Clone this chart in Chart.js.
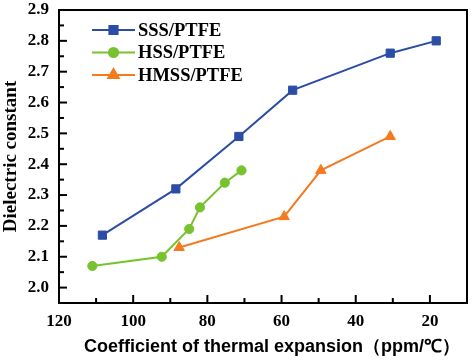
<!DOCTYPE html>
<html>
<head>
<meta charset="utf-8">
<script src="https://cdn.jsdelivr.net/npm/chart.js@4.4.1/dist/chart.umd.min.js"></script>
<style>
  html, body { margin: 0; padding: 0; background: #fff; }
  #wrap { width: 474px; height: 363px; }
</style>
</head>
<body>
<div id="wrap"><canvas id="grafico"></canvas></div>
<script>
// dados
const sssX = [108.3, 88.5, 71.5, 57.0, 30.7, 18.3];
const sssY = [2.17, 2.32, 2.49, 2.64, 2.76, 2.80];

const hssX = [111.0, 92.3, 84.9, 82.0, 75.3, 70.8];
const hssY = [2.07, 2.10, 2.19, 2.26, 2.34, 2.38];

const hmssX = [87.6, 59.3, 49.4, 30.7];
const hmssY = [2.13, 2.23, 2.38, 2.49];

const xTicks = [120, 100, 80, 60, 40, 20];
const xMinor = [110, 90, 70, 50, 30];
const yTicks = [2.0, 2.1, 2.2, 2.3, 2.4, 2.5, 2.6, 2.7, 2.8, 2.9];
const yMinor = [1.95, 2.05, 2.15, 2.25, 2.35, 2.45, 2.55, 2.65, 2.75, 2.85];

const nomes = ['SSS/PTFE', 'HSS/PTFE', 'HMSS/PTFE'];
const cores = ['#2C4DA6', '#77C22E', '#F47A20'];
const simbolos = ['rect', 'circle', 'triangle'];
const raios = [5.8, 4.6, 6];

const serif = "'Liberation Serif', 'Times New Roman', serif";
const sans = "'Liberation Sans', Arial, sans-serif";

function pontos(xs, ys) {
  return xs.map((x, i) => ({ x: x, y: ys[i] }));
}

// moldura, marcas para dentro e legenda
const moldura = {
  id: 'moldura',
  afterDraw(chart) {
    const ctx = chart.ctx;
    const a = chart.chartArea;
    const sx = chart.scales.x;
    const sy = chart.scales.y;
    ctx.save();
    ctx.strokeStyle = '#000';
    ctx.lineWidth = 2;
    ctx.strokeRect(a.left, a.top, a.right - a.left, a.bottom - a.top);

    ctx.fillStyle = '#000';
    xTicks.forEach(v => {
      const px = sx.getPixelForValue(v);
      ctx.fillRect(px - 1, a.bottom - 8, 2, 8);
    });
    xMinor.forEach(v => {
      const px = sx.getPixelForValue(v);
      ctx.fillRect(px - 1, a.bottom - 5, 2, 5);
    });
    yTicks.forEach(v => {
      const py = sy.getPixelForValue(v);
      ctx.fillRect(a.left, py - 1, 8, 2);
    });
    yMinor.forEach(v => {
      const py = sy.getPixelForValue(v);
      ctx.fillRect(a.left, py - 1, 5, 2);
    });

    // legenda
    const x0 = 92, x1 = 135, yTopo = 30, passo = 22.5;
    nomes.forEach((nome, i) => {
      const y = yTopo + i * passo;
      ctx.strokeStyle = cores[i];
      ctx.lineWidth = 2;
      ctx.beginPath();
      ctx.moveTo(x0, y); ctx.lineTo(x1, y);
      ctx.stroke();
      ctx.fillStyle = cores[i];
      Chart.helpers.drawPoint(ctx, {
        pointStyle: simbolos[i], radius: raios[i], borderWidth: 1
      }, (x0 + x1) / 2, y);
      ctx.fillStyle = '#000';
      ctx.font = 'bold 18.5px ' + serif;
      ctx.textBaseline = 'middle';
      ctx.textAlign = 'left';
      ctx.fillText(nome, 138, y + 1);
    });
    ctx.restore();
  }
};

const conjuntos = [pontos(sssX, sssY), pontos(hssX, hssY), pontos(hmssX, hmssY)];

new Chart(document.getElementById('grafico'), {
  type: 'line',
  data: {
    datasets: conjuntos.map((d, i) => ({
      label: nomes[i],
      data: d,
      borderColor: cores[i],
      backgroundColor: cores[i],
      pointBackgroundColor: cores[i],
      pointBorderColor: cores[i],
      pointStyle: simbolos[i],
      pointRadius: raios[i],
      pointBorderWidth: 1,
      borderWidth: 2,
      tension: 0,
      fill: false
    }))
  },
  options: {
    responsive: true,
    maintainAspectRatio: false,
    animation: false,
    layout: { padding: { top: 10, right: 4, left: 0, bottom: 0 } },
    plugins: {
      legend: { display: false },
      tooltip: { enabled: false }
    },
    scales: {
      x: {
        type: 'linear',
        reverse: true,
        min: 10,
        max: 120,
        afterBuildTicks: s => { s.ticks = xTicks.map(v => ({ value: v })); },
        afterFit: s => { s.height = 60; s.paddingLeft = 0; s.paddingRight = 0; },
        grid: { display: false, drawTicks: false },
        border: { display: false },
        ticks: {
          color: '#000',
          padding: 8,
          maxRotation: 0,
          autoSkip: false,
          font: { family: serif, size: 17, weight: 'bold' }
        },
        title: {
          display: true,
          text: '\u2002\u2002Coefficient of thermal expansion（ppm/℃）',
          color: '#000',
          padding: { top: 0, bottom: 5 },
          font: { family: sans, size: 18, weight: 'bold' }
        }
      },
      y: {
        type: 'linear',
        min: 1.95,
        max: 2.9,
        afterBuildTicks: s => { s.ticks = yTicks.map(v => ({ value: v })); },
        afterFit: s => { s.width = 59; s.paddingTop = 0; s.paddingBottom = 0; },
        grid: { display: false, drawTicks: false },
        border: { display: false },
        ticks: {
          color: '#000',
          padding: 10,
          callback: v => v.toFixed(1),
          font: { family: serif, size: 17, weight: 'bold' }
        },
        title: {
          display: true,
          text: 'Dielectric constant',
          color: '#000',
          padding: { top: 0, bottom: 0 },
          font: { family: serif, size: 19, weight: 'bold' }
        }
      }
    }
  },
  plugins: [moldura]
});
</script>
</body>
</html>
